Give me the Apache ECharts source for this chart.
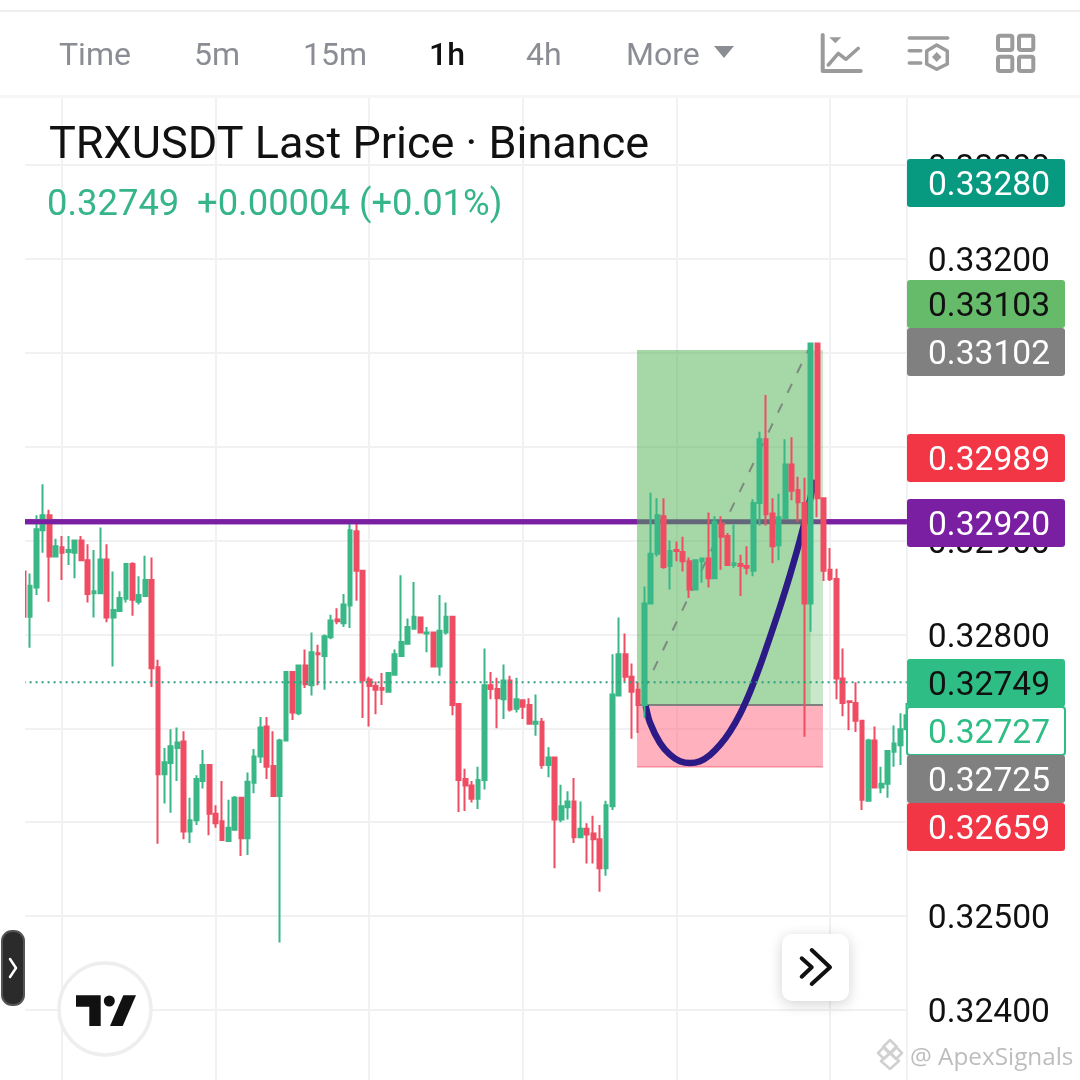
<!DOCTYPE html>
<html><head><meta charset="utf-8">
<style>html,body{margin:0;padding:0;background:#fff}#c{width:1080px;height:1080px}</style>
<script src="https://cdn.jsdelivr.net/npm/echarts@6/dist/echarts.min.js"></script>
</head><body><div id="c"></div>
<script>
// candle values (USDT), one entry per hour
const opens=[
0.32867,0.32819,0.32850,0.32911,0.32927,0.32883,0.32893,0.32888,0.32887,0.32900,
0.32879,0.32844,0.32844,0.32880,0.32818,0.32825,0.32838,0.32875,0.32835,0.32841,
0.32858,0.32765,0.32651,0.32663,0.32679,0.32686,0.32590,0.32602,0.32644,0.32661,
0.32609,0.32601,0.32580,0.32592,0.32626,0.32583,0.32642,0.32670,0.32702,0.32660,
0.32628,0.32687,0.32760,0.32716,0.32767,0.32746,0.32780,0.32777,0.32797,0.32816,
0.32812,0.32831,0.32910,0.32868,0.32752,0.32745,0.32743,0.32739,0.32757,0.32777,
0.32790,0.32806,0.32818,0.32801,0.32802,0.32766,0.32802,0.32819,0.32726,0.32646,
0.32639,0.32625,0.32645,0.32746,0.32742,0.32731,0.32751,0.32721,0.32730,0.32725,
0.32705,0.32707,0.32661,0.32669,0.32603,0.32616,0.32622,0.32584,0.32593,0.32588,
0.32582,0.32551,0.32617,0.32735,0.32779,0.32755,0.32741,0.32725,0.32833,0.32886,
0.32926,0.32873,0.32890,0.32888,0.32878,0.32848,0.32878,0.32881,0.32860,0.32918,
0.32905,0.32874,0.32875,0.32873,0.32868,0.32940,0.33008,0.32929,0.32895,0.32924,
0.32981,0.32954,0.32940,0.32833,0.33110,0.32945,0.32869,0.32859,0.32753,0.32729,
0.32727,0.32708,0.32623,0.32687,0.32637,0.32641,0.32675,0.32682,0.32699];
const closes=[
0.32819,0.32852,0.32912,0.32927,0.32883,0.32894,0.32887,0.32890,0.32900,0.32879,
0.32843,0.32846,0.32880,0.32818,0.32826,0.32839,0.32875,0.32837,0.32842,0.32858,
0.32764,0.32651,0.32664,0.32681,0.32685,0.32590,0.32602,0.32646,0.32661,0.32609,
0.32599,0.32581,0.32594,0.32626,0.32583,0.32643,0.32670,0.32701,0.32659,0.32628,
0.32687,0.32760,0.32717,0.32767,0.32747,0.32781,0.32779,0.32798,0.32815,0.32814,
0.32832,0.32911,0.32868,0.32751,0.32745,0.32741,0.32741,0.32759,0.32779,0.32792,
0.32808,0.32819,0.32802,0.32802,0.32766,0.32804,0.32819,0.32725,0.32645,0.32639,
0.32625,0.32645,0.32746,0.32742,0.32732,0.32751,0.32720,0.32731,0.32723,0.32705,
0.32707,0.32661,0.32669,0.32603,0.32617,0.32622,0.32584,0.32593,0.32587,0.32582,
0.32551,0.32618,0.32736,0.32779,0.32755,0.32739,0.32725,0.32833,0.32886,0.32927,
0.32872,0.32889,0.32889,0.32878,0.32848,0.32879,0.32881,0.32860,0.32920,0.32904,
0.32874,0.32876,0.32873,0.32871,0.32940,0.33008,0.32928,0.32894,0.32925,0.32981,
0.32953,0.32941,0.32833,0.33110,0.32945,0.32868,0.32859,0.32753,0.32727,0.32728,
0.32708,0.32624,0.32687,0.32637,0.32641,0.32676,0.32684,0.32699,0.32714];
const lows=[
0.32819,0.32786,0.32842,0.32887,0.32835,0.32883,0.32858,0.32874,0.32860,0.32879,
0.32834,0.32818,0.32844,0.32813,0.32766,0.32825,0.32834,0.32820,0.32832,0.32841,
0.32744,0.32577,0.32620,0.32610,0.32644,0.32582,0.32578,0.32597,0.32636,0.32586,
0.32594,0.32581,0.32580,0.32592,0.32564,0.32565,0.32631,0.32663,0.32646,0.32628,
0.32472,0.32687,0.32709,0.32714,0.32743,0.32735,0.32746,0.32741,0.32795,0.32811,
0.32808,0.32807,0.32836,0.32711,0.32702,0.32715,0.32725,0.32739,0.32757,0.32777,
0.32789,0.32805,0.32802,0.32781,0.32766,0.32756,0.32800,0.32714,0.32611,0.32612,
0.32621,0.32614,0.32635,0.32731,0.32700,0.32710,0.32718,0.32717,0.32710,0.32705,
0.32692,0.32657,0.32648,0.32551,0.32600,0.32603,0.32578,0.32584,0.32556,0.32556,
0.32526,0.32543,0.32613,0.32735,0.32750,0.32689,0.32695,0.32711,0.32833,0.32883,
0.32870,0.32848,0.32878,0.32867,0.32839,0.32848,0.32855,0.32850,0.32860,0.32869,
0.32874,0.32871,0.32841,0.32864,0.32862,0.32916,0.32916,0.32876,0.32879,0.32924,
0.32943,0.32920,0.32691,0.32803,0.32925,0.32857,0.32857,0.32731,0.32713,0.32698,
0.32696,0.32613,0.32623,0.32637,0.32631,0.32626,0.32659,0.32661,0.32699];
const highs=[
0.32867,0.32865,0.32927,0.32960,0.32933,0.32902,0.32905,0.32905,0.32900,0.32905,
0.32896,0.32890,0.32914,0.32896,0.32867,0.32846,0.32876,0.32877,0.32862,0.32884,
0.32882,0.32773,0.32679,0.32699,0.32701,0.32697,0.32626,0.32650,0.32677,0.32662,
0.32618,0.32644,0.32624,0.32628,0.32626,0.32653,0.32678,0.32712,0.32712,0.32697,
0.32689,0.32760,0.32760,0.32767,0.32784,0.32802,0.32789,0.32800,0.32821,0.32828,
0.32843,0.32922,0.32923,0.32868,0.32755,0.32750,0.32759,0.32759,0.32784,0.32863,
0.32817,0.32856,0.32819,0.32808,0.32803,0.32842,0.32834,0.32819,0.32726,0.32657,
0.32644,0.32659,0.32785,0.32760,0.32754,0.32768,0.32756,0.32754,0.32731,0.32732,
0.32736,0.32711,0.32680,0.32670,0.32640,0.32633,0.32647,0.32622,0.32599,0.32607,
0.32597,0.32623,0.32779,0.32818,0.32801,0.32769,0.32749,0.32851,0.32951,0.32945,
0.32945,0.32900,0.32899,0.32904,0.32882,0.32879,0.32882,0.32930,0.32926,0.32926,
0.32908,0.32917,0.32885,0.32894,0.32944,0.33016,0.33055,0.32945,0.32950,0.33008,
0.33010,0.32968,0.32967,0.33110,0.33110,0.32945,0.32892,0.32870,0.32785,0.32729,
0.32749,0.32709,0.32689,0.32702,0.32659,0.32676,0.32703,0.32716,0.32727];
const firstHour=18;

// levels and drawings, in (hour, price)
const resistance=0.32920, lastPrice=0.32749, takeProfit=0.33103, entry=0.32725, stopLoss=0.32659;
const boxHours=[113.84,141,142.9];
const curveHours =[115.2,115.88,117.44,119,120.56,122.13,123.69,125.25,126.81,128.38,129.94,131.5,133.06,134.63,136.19,137.75,139.31,140.88,141.5];
const curvePrices=[0.32724,0.32706,0.326845,0.32672,0.32665,0.32663,0.32665,0.326717,0.326823,0.326967,0.327153,0.327388,0.327665,0.327973,0.328293,0.328634,0.329007,0.329433,0.32965];
const trendHours=[114.9,140.6], trendPrices=[0.32741,0.33103];

// text
const tabLabels=['Time','5m','15m','1h','4h','More'];
const tagLabels=['0.33280','0.33103','0.33102','0.32989','0.32920','0.32749','0.32727','0.32725','0.32659'];
const titleText='TRXUSDT Last Price · Binance';
const quoteText='0.32749', changeText='+0.00004 (+0.01%)';

// styling / layout
const UP='#39b787', DOWN='#ef4d63', PURPLE='#7b1fa2', NAVY='#2c1a87';
const tabX=[59,194,303,429,526,626];
const tagY=[183,304,352,458,523,683,731,779,827];
const tagFill=['#089981','#66bb6a','#808080','#f23645','#7b1fa2','#2ebd85','#ffffff','#808080','#f23645'];
const tagText=['#fff','#111','#fff','#fff','#fff','#111','#2ebd85','#fff','#fff'];

const candleRows=opens.map((o,i)=>[firstHour+i,o,closes[i],lows[i],highs[i]]);
const seg=(a,b,p)=>[[a,p],[b,p]];
const F='Roboto';
const txt=(t,x,y,size,fill,weight,extra)=>({type:'text',z:120,silent:true,style:Object.assign({text:t,x:x,y:y,fill:fill,font:(weight||'400')+' '+size+'px '+F,textAlign:'left',textVerticalAlign:'middle',align:'left',verticalAlign:'middle'},extra||{})});
const stroke=(pts,color,w,closed)=>({type:closed?'polygon':'polyline',z:120,silent:true,shape:{points:pts},style:{stroke:color,lineWidth:w,fill:closed?'none':null,lineCap:'round',lineJoin:'round'}});
const fillPoly=(pts,color)=>({type:'polygon',z:120,silent:true,shape:{points:pts},style:{fill:color}});
const rect=(x,y,w,h,fill,r,z,extra)=>({type:'rect',z:z||110,silent:true,shape:{x:x,y:y,width:w,height:h,r:r||0},style:Object.assign({fill:fill},extra||{})});
const G='#9b9b9b';
const graphics=[
  rect(0,97,25,983,'#fff',0,100),
  rect(0,0,1080,95,'#fff',0,105),
  rect(0,95,1080,3,'#f6f6f6',0,105),
  rect(0,10,1080,2,'#eeeeee',0,106),
  // tabs
  ...tabLabels.map((t,i)=>txt(t,tabX[i],57,32,t==='1h'?'#111':'#8a8d93',t==='1h'?'500':'400')),
  fillPoly([[714,46],[734,46],[724,58]],'#8a8d93'),
  // icon 1
  stroke([[822.7,35],[822.7,71],[860.7,71]],G,4),
  stroke([[828.3,65],[838.3,53.3],[846,59.3],[858.3,48.3]],G,3.5),
  fillPoly([[829.3,37.3],[841.3,37.3],[835.3,43.3]],G),
  // icon 2
  stroke([[909.3,38],[947.7,38]],G,3.5),
  stroke([[909.3,50.7],[920.7,50.7]],G,3.5),
  stroke([[909.3,63],[920.7,63]],G,3.5),
  stroke([[936.7,45],[947.3,51],[947.3,64],[936.7,69.3],[926.7,64],[926.7,51]],G,3.5,true),
  fillPoly([[936.7,52],[941.5,57],[936.7,62],[932,57]],G),
  // icon 3
  ...[[998,35.7],[1019,35.7],[998,56.7],[1019,56.7]].map(p=>({type:'rect',z:120,silent:true,shape:{x:p[0],y:p[1],width:14.3,height:14.3,r:2},style:{fill:'none',stroke:G,lineWidth:4}})),
  // title
  txt(titleText,49,147,45,'#111'),
  txt(quoteText,47,206,36.4,'#37b58a'),
  txt(changeText,197,206,36.4,'#37b58a'),
  // price tags
  ...tagLabels.map((t,i)=>rect(907,tagY[i]-24,158,48,tagFill[i],3,110,i===6?{stroke:'#2ebd85',lineWidth:2}:{})),
  ...tagLabels.map((t,i)=>txt(t,928,tagY[i]+4,33.6,tagText[i])),
  // left handle
  rect(2,931,22,74,'#2b2b2b',10,110,{stroke:'#555',lineWidth:2}),
  stroke([[10,959],[16,968],[10,977]],'#fff',2.5),
  // TradingView badge
  {type:'circle',z:110,silent:true,shape:{cx:105,cy:1009,r:46},style:{fill:'#fff',stroke:'#eeeeee',lineWidth:3.5}},
  fillPoly([[76,995.3],[100.7,995.3],[100.7,1026],[89.3,1026],[89.3,1006.7],[76,1006.7]],'#111'),
  {type:'circle',z:120,silent:true,shape:{cx:109.3,cy:1001,r:5.5},style:{fill:'#111'}},
  fillPoly([[123.3,995.3],[136,995.3],[122.7,1026],[110,1026]],'#111'),
  // scroll button
  rect(782,934,67,67,'#fff',10,110,{shadowBlur:14,shadowColor:'rgba(0,0,0,0.18)',shadowOffsetY:3}),
  stroke([[811.7,950],[830,967.3],[811.7,984]],'#111',4),
  stroke([[801.7,958.3],[811.7,967.3],[801.7,976.7]],'#111',4),
  // watermark
  stroke([[890,1040],[897,1047],[890,1054],[883,1047]],'#d0d0d0',2.5,true),
  stroke([[884,1047],[890,1053],[884,1059],[878,1053]],'#d0d0d0',2.5,true),
  stroke([[896,1047],[902,1053],[896,1059],[890,1053]],'#d0d0d0',2.5,true),
  stroke([[890,1053],[899,1061],[890,1069],[881,1061]],'#d0d0d0',2.5,true),
  {type:'text',z:120,silent:true,style:{text:'@ ApexSignals',x:910,y:1058,fill:'#bdbdbd',font:'24.3px "Open Sans"',textAlign:'left',textVerticalAlign:'middle',align:'left',verticalAlign:'middle',shadowBlur:2,shadowColor:'rgba(0,0,0,0.25)',shadowOffsetY:1}}
];
const plain={type:'line',symbol:'none',silent:true,animation:false};
const option={
  animation:false,
  grid:{left:-91.6,top:71.25,width:998.4,height:1032.6,containLabel:false,outerBoundsMode:'none'},
  xAxis:{type:'value',min:0,max:156,interval:24,
    axisLine:{show:false},axisTick:{show:false},axisLabel:{show:false},
    splitLine:{show:true,lineStyle:{color:'#f1f1f3',width:2}}},
  yAxis:{type:'value',position:'right',min:0.323,max:0.334,interval:0.001,
    axisLine:{show:false},axisTick:{show:false},
    axisLabel:{margin:21,color:'#111',fontFamily:F,fontSize:33.6,verticalAlign:'top',lineHeight:8,formatter:v=>v.toFixed(5),showMinLabel:true,showMaxLabel:true},
    splitLine:{show:true,lineStyle:{color:'#f1f1f3',width:2}}},
  series:[
    Object.assign({},plain,{name:'level',z:1,data:seg(firstHour,156,resistance),lineStyle:{color:PURPLE,width:5}}),
    Object.assign({},plain,{name:'boxes',z:1,data:seg(boxHours[0],boxHours[0],entry),lineStyle:{width:0},
      markArea:{silent:true,z:2,animation:false,data:[
        [{xAxis:boxHours[0],yAxis:takeProfit,itemStyle:{color:'rgba(76,175,80,0.5)'}},{xAxis:boxHours[1],yAxis:entry}],
        [{xAxis:boxHours[1],yAxis:takeProfit,itemStyle:{color:'rgba(76,175,80,0.3)'}},{xAxis:boxHours[2],yAxis:entry}],
        [{xAxis:boxHours[0],yAxis:entry,itemStyle:{color:'rgba(255,100,125,0.5)'}},{xAxis:boxHours[2],yAxis:stopLoss}]
      ]}}),
    Object.assign({},plain,{name:'entry',z:3,data:seg(boxHours[0],boxHours[2],entry),lineStyle:{color:'#808080',width:2}}),
    Object.assign({},plain,{name:'stop',z:3,data:seg(boxHours[0],boxHours[2],stopLoss),lineStyle:{color:'#f58a9a',width:1.5}}),
    Object.assign({},plain,{name:'trend',z:3,data:trendHours.map((h,i)=>[h,trendPrices[i]]),lineStyle:{color:'#7f8a7f',width:2,type:[10,12]}}),
    Object.assign({},plain,{name:'curve',z:4,smooth:0.3,data:curveHours.map((h,i)=>[h,curvePrices[i]]),lineStyle:{color:NAVY,width:6.5,join:'round'}}),
    {type:'candlestick',name:'TRXUSDT',z:5,silent:true,animation:false,barWidth:4.4,
      itemStyle:{color:UP,color0:DOWN,borderColor:UP,borderColor0:DOWN,borderWidth:2},
      data:candleRows},
    Object.assign({},plain,{name:'levelLeft',z:6,data:seg(firstHour,boxHours[0],resistance),lineStyle:{color:PURPLE,width:5}}),
    Object.assign({},plain,{name:'levelRight',z:6,data:seg(143.5,156,resistance),lineStyle:{color:PURPLE,width:5}}),
    Object.assign({},plain,{name:'last',z:7,data:seg(firstHour,156,lastPrice),lineStyle:{color:'#2f9d83',width:2,type:[2,4]}})
  ],
  graphic:graphics
};
const chart=echarts.init(document.getElementById('c'),null,{renderer:'canvas',width:1080,height:1080});
chart.setOption(option);
</script></body></html>
